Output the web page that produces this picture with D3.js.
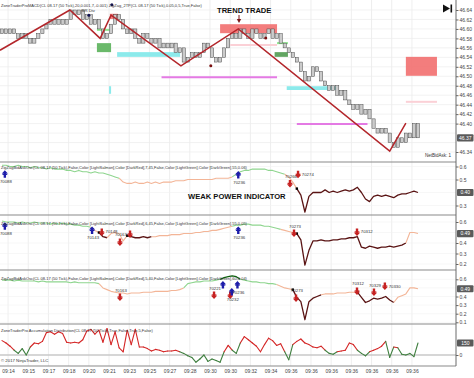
<!DOCTYPE html>
<html><head><meta charset="utf-8">
<script src="https://cdn.jsdelivr.net/npm/d3@7"></script>
<style>
body{margin:0;background:#fff}
svg{display:block}
text{font-family:"Liberation Sans",Arial,sans-serif}
</style>
</head><body>
<svg id="c" width="474" height="378"></svg>
<script>
// ---------------- DATA ----------------
const timeLabels = ["09:14","09:15","09:17","09:18","09:20","09:21","09:23","09:25","09:27","09:28","09:30","09:30","09:32","09:34","09:36","09:36","09:36","09:36","09:36","09:36","09:36"];
const timeTickIdx = [2,7,12,17,22,27,32,37,42,47,52,57,62,67,72,77,82,87,92,97,102];

const closes = [46.60,46.59,46.60,46.59,46.58,46.59, 46.58,46.57,46.58,46.59, 46.60,46.61, 46.62,46.61,46.62,46.61,46.62,
 46.64,46.63,46.64, 46.62,46.63,46.61,46.62,46.60, 46.58,46.59, 46.61,46.63,46.62, 46.60,46.59,46.60,46.58,46.57,
 46.59,46.58,46.57,46.58,46.56,46.57,46.56, 46.57,46.55,46.56, 46.53,46.54,46.55,46.54,46.55, 46.57,46.56,
 46.54,46.53,46.54, 46.56,46.58,46.59,46.58,46.60, 46.59,46.58,46.60,46.59,46.58,46.59,46.60,46.58,46.59,
 46.57,46.56,46.55,46.54,46.53, 46.51,46.49,46.50,46.52,46.51,46.49, 46.48,46.47,46.48,46.46,46.47,46.45,
 46.44,46.43,46.44,46.42,46.43, 46.41,46.39,46.38,46.39,46.38, 46.36,46.35, 46.37,46.36,46.38,46.37, 46.40,46.37];

const zigzagPts = [[0,46.555],[17.3,46.64],[24.8,46.58],[27.5,46.629],[44.8,46.522],[59,46.60],[96.5,46.342],[100.5,46.401]];

const priceTicks = [46.34,46.36,46.38,46.40,46.42,46.44,46.46,46.48,46.50,46.52,46.54,46.56,46.58,46.60,46.62,46.64];

// zones: [i0, i1, lowPrice, highPrice, kind]
const zones = [
  [24,27.5,46.551,46.570,"green"],
  [27.2,29.2,46.621,46.632,"red"],
  [54.5,68.6,46.591,46.610,"red"],
  [68,71.3,46.541,46.551,"dkgreen"],
  [100.5,108.2,46.501,46.541,"red"],
  [29,44.6,46.541,46.551,"cyan"],
  [71,83.5,46.471,46.479,"cyan"],
  [27,27.5,46.463,46.479,"cyan"]
];
// levels: [i0, i1, price, kind]
const levels = [
  [24,27.2,46.598,"lgreen"],
  [68.6,71.3,46.570,"lgreen"],
  [40,68.6,46.498,"magenta"],
  [73.5,91,46.399,"magenta"],
  [57,68.6,46.566,"pink"],
  [100.5,108.2,46.446,"pink"]
];
// dots on price panel: [i, price, kind]
const priceDots = [[22,46.629,"navy"],[27.7,46.651,"navy"],[52.2,46.522,"dkred"],[65.8,46.581,"dkred"]];

const osc2 = [0.61, 0.61,0.60,0.60,0.61,0.60,0.60,0.59,0.60,0.59,0.59,0.58,0.59,0.58,0.58,
 0.58,0.57,0.57,0.56,0.57,0.56,0.56,0.55,0.56,0.55, 0.55,0.54,0.53,0.52,0.51,
 0.48,0.47,0.47,0.48,0.47,0.47,0.48,0.47,0.48,0.47,0.48,0.48,0.48,0.49,0.49,0.49,0.50,0.50,0.50,0.50,0.50,0.50,0.50,0.51,0.51,0.51,0.51,0.52,
 0.54,0.56,0.57,0.57,0.58,0.58,0.58,0.58,0.57,0.57,0.56,0.55,0.54, 0.52,0.48,0.43,
 0.38,0.25,0.37,0.40,0.40,0.40,0.42,0.40,0.41,0.40, 0.41,0.42,0.41,0.42,0.44,0.40,0.35,0.33,0.37,0.38,
 0.37,0.38,0.37,0.36,0.38,0.39,0.39,0.40,0.41,0.40];
const osc2Runs = [[0,"up"],[29,"dn"],[57,"up"],[70,"dn"],[73,"sdn"]];

const osc3 = [0.61,0.60,0.60,0.60,0.59,0.60,0.59,0.59,0.60,0.59,0.59,0.59,0.58,0.59,0.58,0.59,0.58,0.58,
 0.57,0.57,0.56,0.56,0.55,
 0.52,0.50,0.46,0.45,0.49,0.50,0.49,0.42,0.47,0.46,0.45,0.45,0.46,0.45,
 0.46,0.46,0.47,0.47,0.47,0.48,0.48,0.48,0.49,0.49,0.49,0.50,0.50,0.51,0.51,0.52,0.52,0.53,0.54,0.55,0.56,
 0.57,0.57,0.58,0.58,0.57,0.57,0.57,0.56,0.56,0.55,0.54,0.53,
 0.52,0.51,0.50,0.49,
 0.43,0.19,0.33,0.42,0.42,0.43,0.42,0.42,0.43,0.43,0.44,0.44,0.45,0.45,0.46,
 0.36,0.35,0.37,0.36,0.35,0.36,0.36,0.37,0.36,0.37,0.38,0.40,0.50,0.50,0.49];
const osc3Runs = [[0,"up"],[22,"dn"],[24,"sdn"],[26,"dn"],[31,"sdn"],[37,"dn"],[57,"up"],[69,"dn"],[73,"sdn"],[100,"dn"]];

const osc4 = [0.59,0.59,0.59,0.58,0.59,0.58,0.58,0.58,0.58,0.57,0.58,0.57,0.57,0.57,0.57,0.57,0.57,0.56,0.57,0.56,0.56,0.56,0.56,0.56,0.55,
 0.50,0.48,0.46,0.45,0.44,0.44,0.43,0.44,0.44,0.44,0.45,0.45,0.45,0.46,0.46,0.46,0.46,0.47,0.47,0.48,0.50,
 0.55,0.56,0.57,0.57,0.58,0.58,0.58,0.59,0.60,
 0.62,0.63,0.64,0.63,0.60,
 0.59,0.58,0.57,0.57,0.56,0.56,0.55,0.55,0.54,
 0.52,0.50,0.49,0.48,
 0.39,0.34,0.13,0.34,0.38,0.40,0.42,0.43,0.43,0.43,0.44,0.44,0.44,0.45,0.45,0.45,
 0.39,0.33,0.35,0.38,0.37,0.38,0.40,0.36,0.33,0.39,0.41,0.43,0.50,0.50,0.49];
const osc4Runs = [[0,"up"],[24,"dn"],[45,"up"],[54,"sup"],[59,"up"],[68,"dn"],[72,"sdn"],[79,"dn"],[88,"sdn"],[97,"dn"]];

const accDist = [180,150,110,60,20,80,0,100,150,140, 170,280,290,260,290,270,160,150,160,150,
 190,300,320,260,310,160,330,130,290,90, 40,310,130,320,100,100,80,50,70,60,
 40,50,50,60,40,20,-10,-30,-90,-50, 0,-80,-50,-70,-90,40,120,60,20,150,
 230,190,150,110,40,130,210,180,120,140, 40,-60,130,170,200,150,130,100,90,110,
 60,20,10,40,50,60,150,130,60,20, -10,40,60,80,110,170,-30,100,90,10, 0,20,-20,150];

// signals: [i, value, dir, label]
const sig2 = [[1.2,0.54,"up","70088"],[59,0.535,"up","70236"],[71.8,0.47,"dn","70266"],[73.8,0.54,"dn","70274"]];
const sig3 = [[1.2,0.56,"up","70088"],[22.8,0.52,"up","70143"],[25.2,0.505,"dn","70148"],[29.7,0.41,"dn","70163"],
              [32.2,0.486,"dn",""],[59,0.52,"up","70236"],[72.8,0.495,"dn","70273"],[88.4,0.505,"dn","70312"]];
const sig4 = [[29.7,0.394,"dn","70163"],[53,0.417,"dn","70221"],[55.2,0.534,"up",""],[57,0.417,"dn",""],
              [57.4,0.452,"up","70232"],[58.8,0.534,"up","70236"],[73.3,0.383,"dn","70273"],[88.4,0.464,"dn","70312"],
              [92.6,0.452,"dn","70329"],[95.3,0.522,"dn","70330"]];

const osc2Ticks = [0.3,0.4,0.5,0.6];
const osc3Ticks = [0.2,0.3,0.4,0.5,0.6];
const osc4Ticks = [0.1,0.2,0.3,0.4,0.5,0.6];
const adTicks = [0,200];

const titles = [
 "ZoneTraderProMACD(CL 08-17 (50 Tick),20,0.001,7,-0.001)  ZigZag_2TP(CL 08-17 (50 Tick),0.05,0,5,True,False)",
 "ZigZagBidAskOsc(CL 08-17 (50 Tick),False,Color [LightSalmon],Color [DarkRed],7,45,False,Color [LightGreen],Color [DarkGreen],55,0.06)",
 "ZigZagBidAskOsc(CL 08-17 (50 Tick),False,Color [LightSalmon],Color [DarkRed],6,45,False,Color [LightGreen],Color [DarkGreen],55,0.05)",
 "ZigZagBidAskOsc(CL 08-17 (50 Tick),False,Color [LightSalmon],Color [DarkRed],5,40,False,Color [LightGreen],Color [DarkGreen],60,0.04)",
 "ZoneTraderPro Accumulation Distribution(CL 08-17 (50 Tick),True,False,True,5,False)"
];

// ---------------- LAYOUT ----------------
const svg = d3.select("#c");
const AX = 456;
const panels = [[0,162],[162,215],[215,270],[270,324],[324,366]];
const x = d3.scaleLinear().domain([0,104]).range([0,420]);
const yP = d3.scaleLinear().domain([46.34,46.64]).range([152,10]);
const y2 = d3.scaleLinear().domain([0.3,0.6]).range([205.5,166.5]);
const y3 = d3.scaleLinear().domain([0.2,0.6]).range([264,222]);
const y4 = d3.scaleLinear().domain([0.1,0.6]).range([322.3,279.3]);
const y5 = d3.scaleLinear().domain([0,200]).range([355,339]);

const defs = svg.append("defs");
panels.forEach((p,k)=>{
  defs.append("clipPath").attr("id","clip"+k).append("rect")
    .attr("x",0).attr("y",p[0]).attr("width",AX).attr("height",p[1]-p[0]);
});

// grid
const grid = svg.append("g");
timeTickIdx.forEach(i=>{
  grid.append("line").attr("x1",x(i)).attr("x2",x(i)).attr("y1",0).attr("y2",366)
    .attr("stroke","#e6e6e6").attr("stroke-width",0.7);
});
priceTicks.forEach(t=>{
  grid.append("line").attr("x1",0).attr("x2",AX).attr("y1",yP(t)).attr("y2",yP(t))
    .attr("stroke","#ececec").attr("stroke-width",0.7);
});
[[y2,osc2Ticks],[y3,osc3Ticks],[y4,osc4Ticks]].forEach(([s,t])=>{
  t.forEach(v=>grid.append("line").attr("x1",0).attr("x2",AX).attr("y1",s(v)).attr("y2",s(v))
    .attr("stroke","#f1f1f1").attr("stroke-width",0.6));
});
grid.append("line").attr("x1",0).attr("x2",AX).attr("y1",y5(0)).attr("y2",y5(0))
  .attr("stroke","#c8c8c8").attr("stroke-width",1.4);

// ---------------- PRICE PANEL ----------------
const gP = svg.append("g").attr("clip-path","url(#clip0)");
const zoneColor = {green:"#62b562",red:"#f26f6f",dkgreen:"#5aa05a",cyan:"#86e9ea"};
zones.forEach(z=>{
  gP.append("rect").attr("x",x(z[0])).attr("width",x(z[1])-x(z[0]))
    .attr("y",yP(z[3])).attr("height",yP(z[2])-yP(z[3]))
    .attr("fill",zoneColor[z[4]]).attr("opacity",z[4]==="red"?0.9:0.95);
});
const levelColor = {lgreen:"#8fe68f",magenta:"#e47ae4",pink:"#fbd0d6"};
levels.forEach(l=>{
  gP.append("line").attr("x1",x(l[0])).attr("x2",x(l[1])).attr("y1",yP(l[2])).attr("y2",yP(l[2]))
    .attr("stroke",levelColor[l[3]]).attr("stroke-width",2);
});
closes.forEach((c,i)=>{
  const o = i===0 ? c : closes[i-1];
  let hi = Math.max(o,c), lo = Math.min(o,c);
  if (hi-lo < 0.0095) lo = hi-0.01;
  gP.append("rect").attr("x",x(i+0.5)-1.6).attr("width",3.2)
    .attr("y",yP(hi)).attr("height",yP(lo)-yP(hi))
    .attr("fill","#cbcbcb").attr("stroke","#3a3a3a").attr("stroke-width",0.45);
});
gP.append("path").attr("d",d3.line().x(d=>x(d[0])).y(d=>yP(d[1]))(zigzagPts))
  .attr("fill","none").attr("stroke","#b3262b").attr("stroke-width",1.5);
priceDots.forEach(d=>{
  gP.append("circle").attr("cx",x(d[0])).attr("cy",yP(d[1])).attr("r",1.5)
    .attr("fill",d[2]==="navy"?"#101050":"#7a1010");
});
gP.append("text").attr("x",x(20.2)).attr("y",11.5).attr("font-size",4.3).attr("fill","#333").text("SR Div");

svg.append("text").attr("x",217).attr("y",13).attr("font-size",7.6).attr("font-weight","bold").attr("fill","#111").text("TREND TRADE");
svg.append("line").attr("x1",239).attr("x2",239).attr("y1",15).attr("y2",21).attr("stroke","#7a1515").attr("stroke-width",1);
svg.append("path").attr("d","M236.8,19 L239,23 L241.2,19 Z").attr("fill","#7a1515");
svg.append("path").attr("d","M443,4.5 L450,8.5 L443,12.5 Z").attr("fill","#111");
svg.append("rect").attr("x",450.5).attr("y",4.5).attr("width",1.6).attr("height",8).attr("fill","#111");
svg.append("text").attr("x",451).attr("y",157).attr("text-anchor","end").attr("font-size",4.5).attr("fill","#333").text("NetBidAsk: 1");

// ---------------- OSCILLATORS ----------------
const runColor = {up:"#8fd58f",dn:"#f3b597",sdn:"#5a1414",sup:"#0d5e0d"};
function drawOsc(k, data, runs, ys, sigs){
  const top = panels[k][0];
  const g = svg.append("g").attr("clip-path","url(#clip"+k+")");
  const line = d3.line().x(d=>x(d[0]+0.5)).y(d=>ys(d[1]));
  runs.forEach((r,j)=>{
    const s = r[0], e = j+1<runs.length ? runs[j+1][0] : data.length-1;
    const pts = d3.range(s,e+1).map(i=>[i,data[i]]);
    g.append("path").attr("d",line(pts)).attr("fill","none")
      .attr("stroke",runColor[r[1]]).attr("stroke-width",(r[1]==="sdn"||r[1]==="sup")?1.3:1.1)
      .attr("stroke-linejoin","round");
    if (r[1]==="sdn") {
      g.append("rect").attr("x",x(s+0.5)-1.2).attr("y",ys(data[s])-1.2).attr("width",2.4).attr("height",2.4).attr("fill","#000");
    }
  });
  sigs.forEach(s=>{
    const cx = x(s[0]), cy = ys(s[1]);
    const col = s[2]==="up" ? "#1d1daa" : "#c62222";
    const d = s[2]==="up"
      ? `M${cx},${cy-4} L${cx+3},${cy-0.8} L${cx+1.2},${cy-0.8} L${cx+1.2},${cy+3.5} L${cx-1.2},${cy+3.5} L${cx-1.2},${cy-0.8} L${cx-3},${cy-0.8} Z`
      : `M${cx},${cy+4} L${cx+3},${cy+0.8} L${cx+1.2},${cy+0.8} L${cx+1.2},${cy-3.5} L${cx-1.2},${cy-3.5} L${cx-1.2},${cy+0.8} L${cx-3},${cy+0.8} Z`;
    g.append("path").attr("d",d).attr("fill",col);
    g.append("line").attr("x1",cx-2.4).attr("x2",cx+2.4).attr("y1",cy).attr("y2",cy).attr("stroke",col).attr("stroke-width",1.3);
    if (s[3]) {
      let lx = cx+1, ly = s[2]==="up" ? cy+9 : cy-5.5, anchor = "middle";
      if (ly < top+12) { lx = cx+3.8; ly = cy+1.5; anchor = "start"; }
      g.append("text").attr("x",lx).attr("y",ly).attr("text-anchor",anchor)
        .attr("font-size",4.3).attr("fill","#333").text(s[3]);
    }
  });
}
drawOsc(1, osc2, osc2Runs, y2, sig2);
drawOsc(2, osc3, osc3Runs, y3, sig3);
drawOsc(3, osc4, osc4Runs, y4, sig4);

svg.append("text").attr("x",188).attr("y",199).attr("font-size",7.6).attr("font-weight","bold").attr("fill","#111").text("WEAK POWER INDICATOR");

const g5 = svg.append("g").attr("clip-path","url(#clip4)");
for (let i=0;i<accDist.length-1;i++){
  const green = Math.min(accDist[i],accDist[i+1]) < 25;
  g5.append("line").attr("x1",x(i+0.5)).attr("x2",x(i+1.5)).attr("y1",y5(accDist[i])).attr("y2",y5(accDist[i+1]))
    .attr("stroke",green?"#3f7f3f":"#d42626").attr("stroke-width",1.1).attr("stroke-linecap","round");
}
svg.append("text").attr("x",1).attr("y",362).attr("font-size",4.3).attr("fill","#333").text("© 2017 NinjaTrader, LLC");

const titleY = [6.5,169,224.5,279.5,331.5];
titles.forEach((t,k)=>{
  svg.append("text").attr("x",1).attr("y",titleY[k]).attr("font-size",4).attr("fill","#333").text(t);
});

[162,215,270,324,366].forEach(yv=>{
  svg.append("line").attr("x1",0).attr("x2",AX).attr("y1",yv).attr("y2",yv).attr("stroke","#8a8a8a").attr("stroke-width",1.2);
});
svg.append("line").attr("x1",AX).attr("x2",AX).attr("y1",0).attr("y2",366).attr("stroke","#6a6a6a").attr("stroke-width",1);

// ---------------- AXES ----------------
function rightAxis(scale, ticks, fmt, lastVal, boxFmt){
  const by = scale(lastVal);
  const shown = ticks.filter(t=>Math.abs(scale(t)-by) > 5.5);
  const g = svg.append("g").attr("transform",`translate(${AX},0)`)
    .call(d3.axisRight(scale).tickValues(shown).tickSize(2.5).tickPadding(1).tickFormat(fmt));
  g.select(".domain").remove();
  g.selectAll("text").attr("font-size",5).attr("fill","#444").attr("font-family","Liberation Sans, Arial, sans-serif");
  g.selectAll("line").attr("stroke","#666");
  svg.append("rect").attr("x",AX+1).attr("y",by-3.6).attr("width",16.5).attr("height",7.2).attr("rx",1)
    .attr("fill","#5a5a5a");
  svg.append("text").attr("x",AX+9.3).attr("y",by+1.8).attr("text-anchor","middle").attr("font-size",5)
    .attr("fill","#fff").text(boxFmt(lastVal));
}
rightAxis(yP, priceTicks, d3.format(".2f"), closes[closes.length-1], d3.format(".2f"));
rightAxis(y2, osc2Ticks, d3.format(".1f"), osc2[osc2.length-1], d3.format(".2f"));
rightAxis(y3, osc3Ticks, d3.format(".1f"), osc3[osc3.length-1], d3.format(".2f"));
rightAxis(y4, osc4Ticks, d3.format(".1f"), osc4[osc4.length-1], d3.format(".2f"));
rightAxis(y5, adTicks, d3.format("d"), accDist[accDist.length-1], d3.format("d"));

const gx = svg.append("g").attr("transform","translate(0,366)")
  .call(d3.axisBottom(x).tickValues(timeTickIdx).tickSize(0).tickPadding(3)
    .tickFormat((d,i)=>timeLabels[i]));
gx.select(".domain").remove();
gx.selectAll("text").attr("font-size",5).attr("fill","#444").attr("font-family","Liberation Sans, Arial, sans-serif");
</script>
</body></html>
